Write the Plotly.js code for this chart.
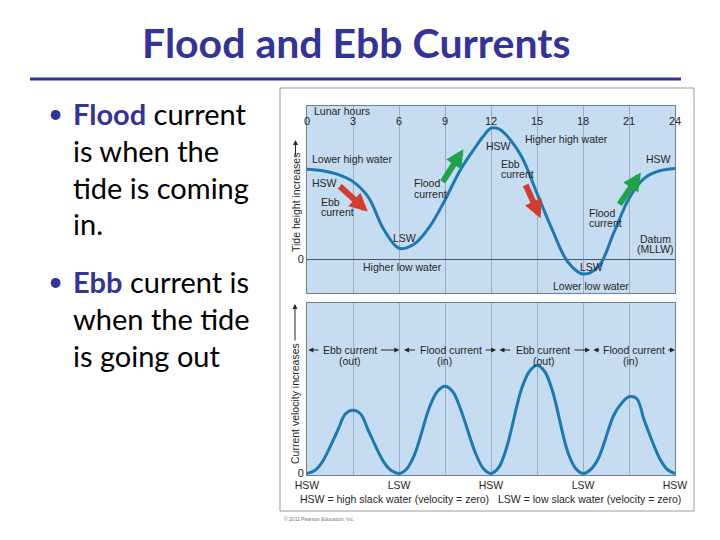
<!DOCTYPE html>
<html>
<head>
<meta charset="utf-8">
<script src="https://cdn.plot.ly/plotly-3.0.1.min.js"></script>
<style>
html, body { margin: 0; padding: 0; background: #fff; }
#plot { width: 720px; height: 540px; }
</style>
</head>
<body>
<div id="plot"></div>
<script>
// tide height over one lunar day (arbitrary units, 0 = datum)
const tideHours = [0, 1, 2, 3, 4, 5, 6, 7, 8, 9, 10, 11, 11.5, 12, 12.5, 13, 14, 15, 16, 17, 18, 19, 20, 21, 22, 23, 24];
const tideHeight = [3.00, 2.95, 2.83, 2.59, 2.07, 1.00, 0.37, 0.51, 1.09, 1.98, 2.98, 3.75, 4.10, 4.37, 4.35,
                    4.14, 3.42, 2.20, 0.98, -0.08, -0.49, -0.25, 0.87, 2.03, 2.70, 2.95, 3.03];

// current speed (bottom panel), zero at each slack water
const velHours = [0, 0.5, 1, 2, 2.5, 3, 3.5, 4, 5, 5.5, 6, 6.5, 7, 8, 8.5, 9, 9.5, 10, 11, 11.5, 12,
                  12.5, 13, 14, 14.5, 15, 15.5, 16, 17, 17.5, 18, 18.5, 19, 20, 20.5, 21, 21.5, 22, 23, 23.5, 24];
const velocity = [0, 0.3, 1.17, 4.3, 5.95, 6.33, 5.95, 4.3, 1.17, 0.3, 0, 0.45, 1.83, 6.67, 8.2, 8.73, 8.2, 6.5, 2.0, 0.5, 0,
                  0.6, 2.5, 8.5, 10.2, 10.83, 10.2, 8.3, 2.17, 0.55, 0, 0.4, 1.5, 5.8, 7.0, 7.67, 7.5, 5.3, 1.5, 0.4, 0];

const hourTicks = [0, 3, 6, 9, 12, 15, 18, 21, 24];
const slackTicks = ['HSW', '', 'LSW', '', 'HSW', '', 'LSW', '', 'HSW'];
const currentNames = ['Ebb current', 'Flood current', 'Ebb current', 'Flood current'];
const currentDirs = ['(out)', '(in)', '(out)', '(in)'];

const slideTitle = 'Flood and Ebb Currents';
const bullet1 = ['<span style="color:#333399"><b>Flood</b></span> current', 'is when the', 'tide is coming', 'in.'];
const bullet2 = ['<span style="color:#333399"><b>Ebb</b></span> current is', 'when the tide', 'is going out'];

const BLUE = '#333399';
const INK = '#262626';
const LABEL = {family: 'Liberation Sans, Arial, sans-serif', size: 10.5, color: INK};

// pixel -> paper helpers (margins are zero)
function px(x) { return x / 720; }
function py(y) { return 1 - y / 540; }

function txt(text, x, y, xanchor, axes) {
    return {text: text, x: x, y: y, xref: axes ? axes[0] : 'paper', yref: axes ? axes[1] : 'paper',
            xanchor: xanchor || 'center', yanchor: 'middle', showarrow: false, font: LABEL};
}

function arrow(x, y, ax, ay, axes, color, width, size) {
    return {text: '', x: x, y: y, ax: ax, ay: ay, xref: axes[0], yref: axes[1],
            axref: axes[0], ayref: axes[1], showarrow: true, arrowhead: 2,
            arrowsize: size, arrowwidth: width, arrowcolor: color, standoff: 0, startstandoff: 0};
}

const annotations = [];

// slide text
annotations.push({text: '<b>' + slideTitle + '</b>', x: px(356), y: py(43), xref: 'paper', yref: 'paper',
    xanchor: 'center', yanchor: 'middle', showarrow: false,
    font: {family: 'Lato, sans-serif', size: 41, color: BLUE}});
function addBullet(lines, top) {
    annotations.push({text: '•', x: px(55), y: py(top - 3), xref: 'paper', yref: 'paper', showarrow: false,
        xanchor: 'center', yanchor: 'middle', font: {family: 'Lato, sans-serif', size: 26, color: BLUE}});
    lines.forEach((l, i) => {
        annotations.push({text: l, x: px(71), y: py(top - 3 + i * 37), xref: 'paper', yref: 'paper',
            xanchor: 'left', yanchor: 'middle', showarrow: false,
            font: {family: 'Lato, sans-serif', size: 29, color: '#000'}});
    });
}
addBullet(bullet1, 116);
addBullet(bullet2, 284);

// top panel labels
const T = ['x', 'y'];
annotations.push(txt('Lunar hours', 0.3, 4.93, 'left', T));
annotations.push(txt('Lower high water', 0.2, 3.33, 'left', T));
annotations.push(txt('HSW', 0.2, 2.53, 'left', T));
annotations.push(txt('Ebb', 0.78, 1.92, 'left', T));
annotations.push(txt('current', 0.78, 1.59, 'left', T));
annotations.push(txt('LSW', 6.34, 0.70, 'center', T));
annotations.push(txt('Higher low water', 6.26, -0.25, 'center', T));
annotations.push(txt('Flood', 6.83, 2.53, 'left', T));
annotations.push(txt('current', 6.83, 2.18, 'left', T));
annotations.push(txt('HSW', 12.48, 3.78, 'center', T));
annotations.push(txt('Higher high water', 14.11, 4.0, 'left', T));
annotations.push(txt('Ebb', 12.55, 3.18, 'left', T));
annotations.push(txt('current', 12.55, 2.84, 'left', T));
annotations.push(txt('Flood', 18.28, 1.55, 'left', T));
annotations.push(txt('current', 18.28, 1.20, 'left', T));
annotations.push(txt('HSW', 23.89, 3.33, 'right', T));
annotations.push(txt('Datum', 22.72, 0.68, 'center', T));
annotations.push(txt('(MLLW)', 22.72, 0.33, 'center', T));
annotations.push(txt('LSW', 18.54, -0.25, 'center', T));
annotations.push(txt('Lower low water', 18.51, -0.88, 'center', T));

// ebb (red) and flood (green) arrows
annotations.push(arrow(3.96, 1.59, 2.04, 2.48, T, '#d63b2f', 6, 0.6));
annotations.push(arrow(10.2, 3.67, 8.79, 2.53, T, '#1fa34a', 6, 0.6));
annotations.push(arrow(15.24, 1.37, 14.22, 2.53, T, '#d63b2f', 6, 0.6));
annotations.push(arrow(21.77, 2.89, 20.31, 1.78, T, '#1fa34a', 6, 0.6));

// bottom panel: current direction labels with span arrows
const B = ['x2', 'y2'];
const nameX = [2.78, 9.36, 15.36, 21.32];
const dirX = [2.8, 8.94, 15.46, 21.07];
const spans = [[0.09, 0.85, 4.72, 6.02], [6.33, 7.15, 11.55, 12.33], [12.55, 13.35, 17.35, 18.46], [18.68, 19.16, 23.46, 24.0]];
currentNames.forEach((n, i) => {
    annotations.push(txt(n, nameX[i], 12.35, 'center', B));
    annotations.push(txt(currentDirs[i], dirX[i], 11.25, 'center', B));
    const s = spans[i];
    annotations.push(arrow(s[0], 12.35, s[1], 12.35, B, INK, 1, 1));
    annotations.push(arrow(s[3], 12.35, s[2], 12.35, B, INK, 1, 1));
});

// axis titles with their long arrows
annotations.push(Object.assign(txt('Tide height increases', px(296), py(203)), {textangle: -90}));
annotations.push(Object.assign(txt('Current velocity increases', px(295), py(404)), {textangle: -90}));
annotations.push({text: '', x: px(295.5), y: py(140), xref: 'paper', yref: 'paper', ax: 0, ay: 17,
    showarrow: true, arrowhead: 2, arrowsize: 1, arrowwidth: 1, arrowcolor: INK});
annotations.push({text: '', x: px(295), y: py(304), xref: 'paper', yref: 'paper', ax: 0, ay: 38,
    showarrow: true, arrowhead: 2, arrowsize: 1, arrowwidth: 1, arrowcolor: INK});

annotations.push(txt('HSW = high slack water (velocity = zero)', px(298), py(499), 'left'));
annotations.push(txt('LSW = low slack water (velocity = zero)', px(683), py(499), 'right'));
annotations.push({text: '© 2011 Pearson Education, Inc.', x: px(282), y: py(519), xref: 'paper', yref: 'paper',
    xanchor: 'left', yanchor: 'middle', showarrow: false,
    font: {family: 'Liberation Sans, Arial, sans-serif', size: 5, color: '#777'}});

const panelLine = '#6c8096';
const gridCol = '#98afc5';

const data = [
    {x: tideHours, y: tideHeight, xaxis: 'x', yaxis: 'y', mode: 'lines',
     line: {shape: 'spline', color: '#1b79b3', width: 3}, hoverinfo: 'skip'},
    {x: velHours, y: velocity, xaxis: 'x2', yaxis: 'y2', mode: 'lines',
     line: {shape: 'spline', color: '#1b79b3', width: 3}, hoverinfo: 'skip'}
];

const layout = {
    width: 720, height: 540,
    margin: {l: 0, r: 0, t: 0, b: 0},
    paper_bgcolor: '#fff', plot_bgcolor: '#c6dcf0',
    showlegend: false,
    font: LABEL,
    xaxis: {domain: [px(307), px(675)], range: [0, 24], anchor: 'y', side: 'top',
            tickvals: hourTicks, ticktext: hourTicks.map(String), ticks: '',
            ticklabelposition: 'inside', ticklabeloverflow: 'allow', ticklabelstandoff: 11,
            tickfont: {size: 11, color: INK},
            showgrid: true, gridcolor: gridCol, gridwidth: 1, zeroline: false,
            showline: true, mirror: true, linecolor: panelLine, linewidth: 1},
    yaxis: {domain: [py(293), py(106)], range: [-1.123, 5.11], anchor: 'x',
            tickvals: [0], ticktext: ['0'], ticks: '', tickfont: {size: 11, color: INK},
            showgrid: false, zeroline: true, zerolinecolor: '#4a5663', zerolinewidth: 1,
            showline: true, mirror: true, linecolor: panelLine, linewidth: 1},
    xaxis2: {domain: [px(307), px(675)], range: [0, 24], anchor: 'y2',
             tickvals: hourTicks, ticktext: slackTicks, ticks: '',
             tickfont: {size: 10.5, color: INK},
             showgrid: true, gridcolor: gridCol, gridwidth: 1, zeroline: false,
             showline: true, mirror: true, linecolor: panelLine, linewidth: 1},
    yaxis2: {domain: [py(475), py(303)], range: [-0.15, 17.05], anchor: 'x2',
             tickvals: [0], ticktext: ['0'], ticks: '', tickfont: {size: 11, color: INK},
             showgrid: false, zeroline: false,
             showline: true, mirror: true, linecolor: panelLine, linewidth: 1},
    shapes: [
        // figure frame
        {type: 'rect', xref: 'paper', yref: 'paper', x0: px(280), x1: px(694), y0: py(511), y1: py(88),
         line: {color: '#9a9a9a', width: 1}, fillcolor: 'rgba(0,0,0,0)', layer: 'below'},
        // rule under the slide title
        {type: 'line', xref: 'paper', yref: 'paper', x0: px(30), x1: px(681), y0: py(79), y1: py(79),
         line: {color: BLUE, width: 3}}
    ],
    annotations: annotations
};

Plotly.newPlot('plot', data, layout, {displayModeBar: false, staticPlot: true});
</script>
</body>
</html>
